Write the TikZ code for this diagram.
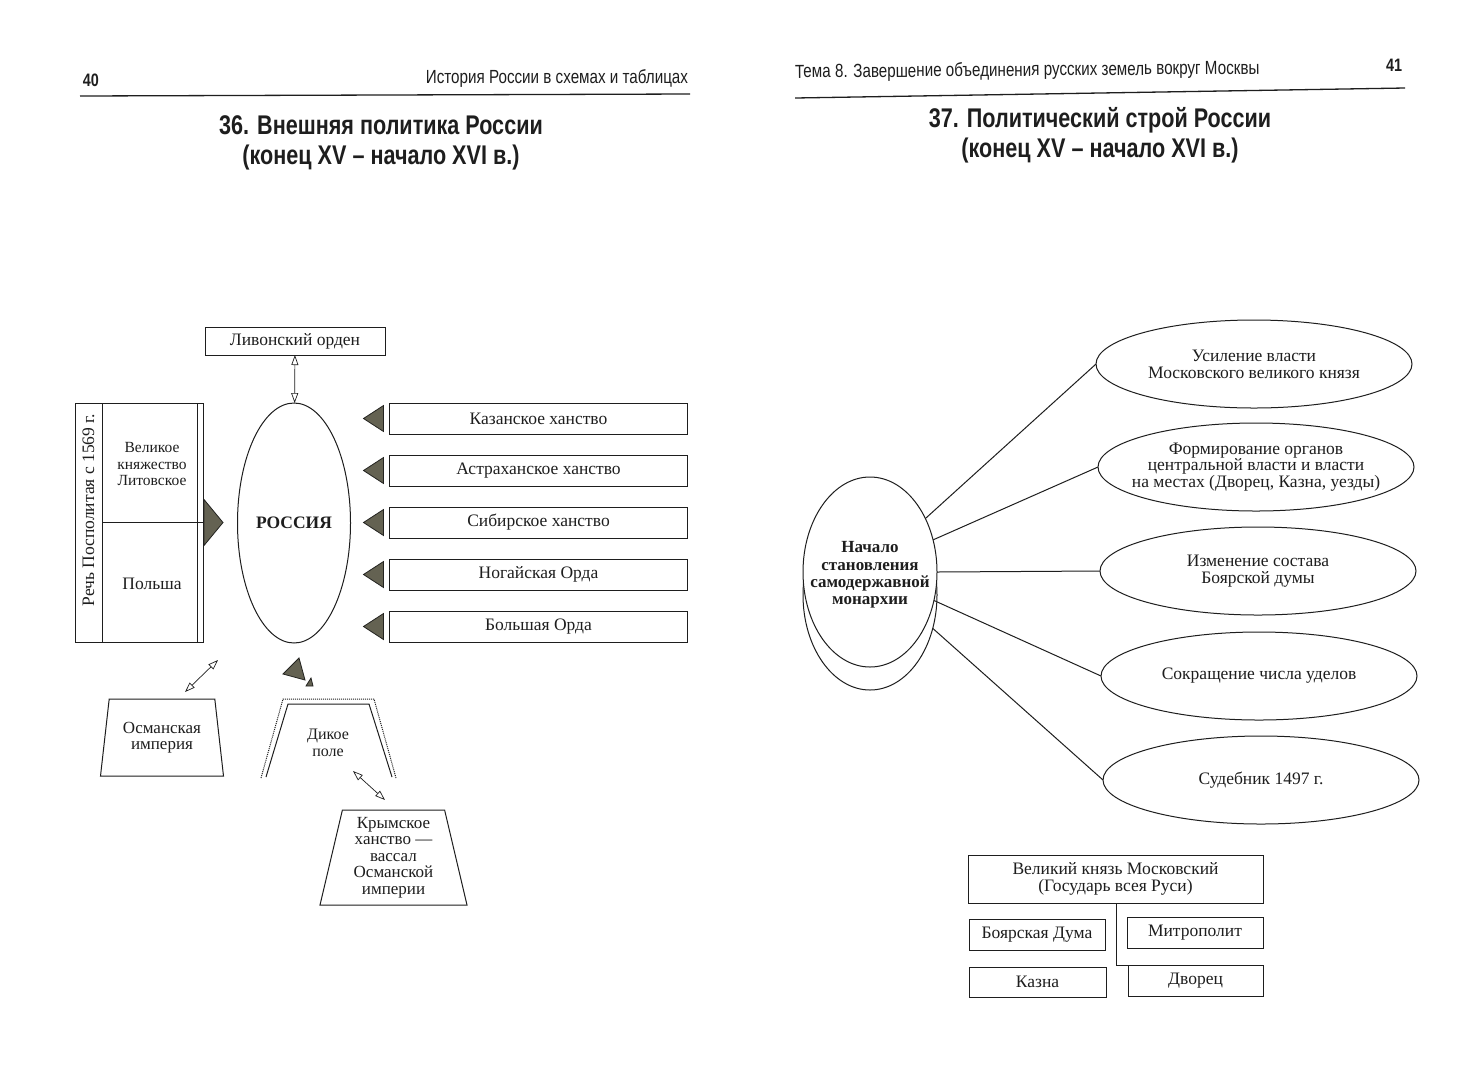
\documentclass[tikz,border=0pt]{standalone}
\usepackage{fontspec}
\setmainfont{Liberation Serif}
\newfontfamily\headfont[FakeStretch=0.8]{Liberation Sans}
\usetikzlibrary{positioning,shapes.geometric,arrows.meta}

\definecolor{ink}{RGB}{30,30,30}
\definecolor{trifill}{RGB}{100,98,82}
\definecolor{triline}{RGB}{35,35,32}

\begin{document}
\begin{tikzpicture}[x=1pt,y=-1pt,
    color=ink,
    line width=1pt,
    every node/.style={inner sep=0pt, outer sep=0pt},
    txt/.style={align=center, font=\fontsize{17.5}{16.8}\selectfont},
    small/.style={font=\fontsize{15.5}{16.5}\selectfont},
    frame/.style={txt, draw, rectangle},
    khan/.style={frame, minimum width=298pt, minimum height=31pt},
    oval/.style={draw, ellipse, minimum width=316pt, minimum height=88pt},
    trap/.style={txt, draw, trapezium, trapezium angle=74.5,
        trapezium stretches body, font=\fontsize{17}{16.5}\selectfont},
    tri/.style={fill=trifill, draw=triline, line width=0.8pt},
    dbl/.style={{Triangle[open,length=10pt,width=7pt]}-{Triangle[open,length=10pt,width=7pt]},
        line width=0.7pt},
    head/.style={font=\headfont\fontsize{19}{20}\selectfont},
    title/.style={align=center, font=\headfont\bfseries\fontsize{27}{30}\selectfont}
]
\fill[white] (0,0) rectangle (1479,1080);
\useasboundingbox (0,0) rectangle (1479,1080);

% page heads
\node[head, font=\headfont\bfseries\fontsize{18}{20}\selectfont] (pl) at (91,80) {40};
\node[head, anchor=east] (hl) at (688,78) {История России в схемах и таблицах};
\draw[line width=1.3pt] (80,96) -- (690,94);
\node[head, anchor=west, rotate=0.5] (hr) at (795,73) {Тема 8. Завершение объединения русских земель вокруг Москвы};
\node[head, font=\headfont\bfseries\fontsize{18}{20}\selectfont] (pr) at (1394,65) {41};
\draw[line width=1.3pt] (795,98) -- (1405,88);

\node[title] (tl) at (381,143) {36. Внешняя политика России\\(конец XV – начало XVI в.)};
\node[title] (tr) at (1100,135) {37. Политический строй России\\(конец XV – начало XVI в.)};

% left scheme
\node[frame, minimum width=180pt, minimum height=28pt] (livon) at (295,341) {Ливонский орден};
\node[draw, ellipse, minimum width=113pt, minimum height=240pt,
    font=\bfseries\fontsize{17.5}{18}\selectfont] (rus) at (294,523) {РОССИЯ};
\draw[dbl] (livon) -- (rus);

\node[draw, minimum width=128pt, minimum height=239pt] (rp) at (139,522.5) {};
\draw ([xshift=27pt]rp.north west) -- ([xshift=27pt]rp.south west);
\draw ([xshift=-6pt]rp.north east) -- ([xshift=-6pt]rp.south east);
\draw ([xshift=27pt]rp.west) -- (rp.east);
\node[txt, rotate=90] (rpt) at (88.5,510) {Речь Посполитая с 1569 г.};
\node[txt, small] (vkl) at (152,464) {Великое\\княжество\\Литовское};
\node[txt] (pol) at (152,584) {Польша};
\filldraw[tri] ([xshift=1pt,yshift=23pt]rp.east) -- ([xshift=20pt]rp.east)
    -- ([xshift=1pt,yshift=-23pt]rp.east) -- cycle;

\node[khan] (kaz) at (538.5,418.5) {Казанское ханство};
\node[khan, below=21pt of kaz] (ast) {Астраханское ханство};
\node[khan, below=21pt of ast] (sib) {Сибирское ханство};
\node[khan, below=21pt of sib] (nog) {Ногайская Орда};
\node[khan, below=21pt of nog] (bol) {Большая Орда};
\foreach \b in {kaz,ast,sib,nog,bol}
    \filldraw[tri] ([xshift=-6pt,yshift=13pt]\b.west) -- ([xshift=-26pt]\b.west)
        -- ([xshift=-6pt,yshift=-13pt]\b.west) -- cycle;

\node[trap, minimum width=123pt, minimum height=77pt] (osm) at (162,737.5) {Османская\\империя};
\coordinate (oa1) at (185,692);
\coordinate (oa2) at (218,660);
\draw[dbl] (oa1) -- (oa2);

\filldraw[tri] (283,674) -- (299,658) -- (305,680) -- cycle;
\filldraw[tri] (306,686) -- (311,678) -- (313,686) -- cycle;

\node[txt, font=\fontsize{16}{16.5}\selectfont] (dik) at (328,743) {Дикое\\поле};
\draw (266,777) -- (288,704) -- (369,704) -- (392,777);
\draw[densely dotted] (261,778) -- (283,699) -- (374,699) -- (396,778);

\node[trap, minimum width=147pt, minimum height=95pt] (krym) at (393.5,857.5)
    {Крымское\\ханство —\\вассал\\Османской\\империи};
\coordinate (ka1) at (353,771);
\coordinate (ka2) at (385,800);
\draw[dbl] (ka1) -- (ka2);

% right scheme
\node[draw, ellipse, minimum width=134pt, minimum height=190pt] (monb) at (870,595) {};
\node[draw, ellipse, fill=white, minimum width=134pt, minimum height=190pt] (mon) at (870,572) {};
\node[txt, font=\bfseries\fontsize{17}{17.4}\selectfont] (mont) at (870,575)
    {Начало\\становления\\самодержавной\\монархии};

\node[oval] (e1) at (1254,364) {};
\node[oval] (e2) at (1256,467) {};
\node[oval] (e3) at (1258,571) {};
\node[oval] (e4) at (1259,676) {};
\node[oval] (e5) at (1261,780) {};
\node[txt] (e1t) at (e1) {Усиление власти\\Московского великого князя};
\node[txt] (e2t) at (e2) {Формирование органов\\центральной власти и власти\\на местах (Дворец, Казна, уезды)};
\node[txt] (e3t) at (e3) {Изменение состава\\Боярской думы};
\node[txt] (e4t) at (e4) {Сокращение числа уделов};
\node[txt] (e5t) at (e5) {Судебник 1497 г.};

\draw (mon.44) -- (e1.west);
\draw (mon.27) -- (e2.west);
\draw (mon.east) -- (e3.west);
\draw (mon.-24) -- (e4.west);
\draw (monb.-28) -- (e5.west);

\node[frame, minimum width=295pt, minimum height=48pt] (gk) at (1115.5,879)
    {Великий князь Московский\\(Государь всея Руси)};
\node[frame, minimum width=136pt, minimum height=31pt] (bd) at (1037,934.5) {Боярская Дума};
\node[frame, minimum width=136pt, minimum height=31pt] (mit) at (1195,933) {Митрополит};
\node[frame, minimum width=137pt, minimum height=30pt] (kzn) at (1037.5,982) {Казна};
\node[frame, minimum width=135pt, minimum height=31pt] (dvr) at (1195.5,980.5) {Дворец};
\coordinate (jn) at (1116,965);
\draw (gk.south -| jn) -- (jn) -- (dvr.north west);
\end{tikzpicture}
\end{document}
